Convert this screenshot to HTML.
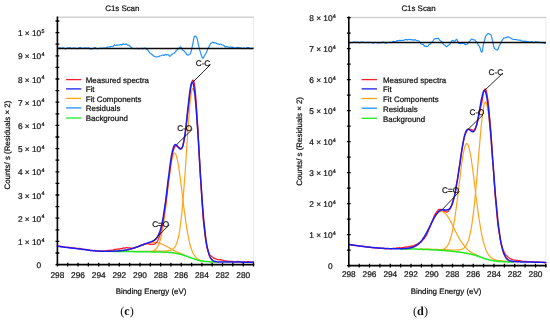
<!DOCTYPE html>
<html lang="en"><head><meta charset="utf-8"><title>C1s Scan</title>
<style>html,body{margin:0;padding:0;background:#fff}svg{display:block}text{text-rendering:geometricPrecision}</style>
</head><body>
<svg width="550" height="321" viewBox="0 0 550 321" font-family='"Liberation Sans", Arial, Helvetica, sans-serif'>
<rect width="550" height="321" fill="#fff"/>
<path d="M253.5,17.3 V264.6" fill="none" stroke="#ececec" stroke-width="1"/>
<path d="M57.4,17.3 H254.0" fill="none" stroke="#d2d2d2" stroke-width="1.5"/>
<g fill="none" stroke-width="1.2" stroke-linejoin="round" stroke-linecap="round"><path d="M133.4,251.4 L133.8,251.4 L134.2,251.4 L134.6,251.4 L135.0,251.4 L135.4,251.4 L135.8,251.4 L136.2,251.4 L136.7,251.4 L137.1,251.4 L137.5,251.4 L137.9,251.4 L138.3,251.4 L138.7,251.4 L139.1,251.4 L139.5,251.4 L140.0,251.4 L140.4,251.4 L140.8,251.4 L141.2,251.4 L141.6,251.4 L142.0,251.4 L142.4,251.4 L142.8,251.4 L143.3,251.4 L143.7,251.4 L144.1,251.4 L144.5,251.4 L144.9,251.3 L145.3,251.3 L145.7,251.3 L146.2,251.3 L146.6,251.3 L147.0,251.3 L147.4,251.3 L147.8,251.3 L148.2,251.3 L148.6,251.3 L149.0,251.3 L149.5,251.3 L149.9,251.3 L150.3,251.3 L150.7,251.3 L151.1,251.3 L151.5,251.3 L151.9,251.3 L152.3,251.3 L152.8,251.3 L153.2,251.3 L153.6,251.3 L154.0,251.3 L154.4,251.3 L154.8,251.3 L155.2,251.3 L155.6,251.2 L156.1,251.2 L156.5,251.2 L156.9,251.2 L157.3,251.2 L157.7,251.2 L158.1,251.2 L158.5,251.2 L158.9,251.2 L159.4,251.2 L159.8,251.2 L160.2,251.2 L160.6,251.2 L161.0,251.1 L161.4,251.1 L161.8,251.1 L162.3,251.1 L162.7,251.1 L163.1,251.1 L163.5,251.1 L163.9,251.1 L164.3,251.0 L164.7,251.0 L165.1,251.0 L165.6,251.0 L166.0,250.9 L166.4,250.9 L166.8,250.9 L167.2,250.9 L167.6,250.8 L168.0,250.8 L168.4,250.7 L168.9,250.7 L169.3,250.6 L169.7,250.5 L170.1,250.4 L170.5,250.3 L170.9,250.2 L171.3,250.0 L171.7,249.8 L172.2,249.6 L172.6,249.4 L173.0,249.1 L173.4,248.8 L173.8,248.4 L174.2,247.9 L174.6,247.4 L175.0,246.8 L175.5,246.1 L175.9,245.3 L176.3,244.3 L176.7,243.3 L177.1,242.0 L177.5,240.6 L177.9,239.1 L178.4,237.3 L178.8,235.3 L179.2,233.1 L179.6,230.7 L180.0,228.0 L180.4,225.0 L180.8,221.8 L181.2,218.3 L181.7,214.5 L182.1,210.4 L182.5,206.0 L182.9,201.4 L183.3,196.5 L183.7,191.3 L184.1,185.9 L184.5,180.3 L185.0,174.4 L185.4,168.4 L185.8,162.3 L186.2,156.1 L186.6,149.9 L187.0,143.7 L187.4,137.5 L187.8,131.4 L188.3,125.5 L188.7,119.9 L189.1,114.5 L189.5,109.5 L189.9,104.9 L190.3,100.7 L190.7,97.1 L191.1,94.1 L191.6,91.6 L192.0,89.8 L192.4,88.7 L192.8,88.4 L193.2,88.7 L193.6,89.7 L194.0,91.4 L194.4,93.7 L194.9,96.7 L195.3,100.3 L195.7,104.5 L196.1,109.2 L196.5,114.3 L196.9,119.9 L197.3,125.8 L197.8,131.9 L198.2,138.3 L198.6,144.9 L199.0,151.6 L199.4,158.3 L199.8,165.0 L200.2,171.6 L200.6,178.1 L201.1,184.5 L201.5,190.7 L201.9,196.6 L202.3,202.3 L202.7,207.7 L203.1,212.8 L203.5,217.6 L203.9,222.1 L204.4,226.3 L204.8,230.2 L205.2,233.8 L205.6,237.0 L206.0,240.0 L206.4,242.7 L206.8,245.2 L207.2,247.3 L207.7,249.3 L208.1,251.0 L208.5,252.6 L208.9,253.9 L209.3,255.1 L209.7,256.2 L210.1,257.1 L210.5,257.9 L211.0,258.5 L211.4,259.1 L211.8,259.6 L212.2,260.0 L212.6,260.4 L213.0,260.7 L213.4,260.9 L213.9,261.1 L214.3,261.3 L214.7,261.4 L215.1,261.5 L215.5,261.6 L215.9,261.7" stroke="#ffa21c"/><path d="M150.7,251.6 L151.1,251.5 L151.5,251.4 L151.9,251.3 L152.3,251.2 L152.8,251.1 L153.2,251.0 L153.6,250.8 L154.0,250.6 L154.4,250.4 L154.8,250.1 L155.2,249.8 L155.6,249.4 L156.1,249.0 L156.5,248.5 L156.9,247.9 L157.3,247.3 L157.7,246.6 L158.1,245.8 L158.5,244.8 L158.9,243.8 L159.4,242.7 L159.8,241.5 L160.2,240.1 L160.6,238.6 L161.0,236.9 L161.4,235.1 L161.8,233.2 L162.3,231.1 L162.7,228.9 L163.1,226.4 L163.5,223.9 L163.9,221.2 L164.3,218.3 L164.7,215.4 L165.1,212.2 L165.6,209.0 L166.0,205.7 L166.4,202.3 L166.8,198.8 L167.2,195.3 L167.6,191.7 L168.0,188.2 L168.4,184.7 L168.9,181.2 L169.3,177.8 L169.7,174.5 L170.1,171.4 L170.5,168.4 L170.9,165.6 L171.3,163.1 L171.7,160.8 L172.2,158.7 L172.6,156.9 L173.0,155.5 L173.4,154.4 L173.8,153.6 L174.2,153.1 L174.6,153.0 L175.0,153.3 L175.5,153.8 L175.9,154.6 L176.3,155.7 L176.7,157.0 L177.1,158.7 L177.5,160.6 L177.9,162.7 L178.4,165.0 L178.8,167.5 L179.2,170.3 L179.6,173.1 L180.0,176.1 L180.4,179.3 L180.8,182.5 L181.2,185.8 L181.7,189.1 L182.1,192.5 L182.5,195.9 L182.9,199.3 L183.3,202.7 L183.7,206.0 L184.1,209.3 L184.5,212.5 L185.0,215.6 L185.4,218.6 L185.8,221.6 L186.2,224.4 L186.6,227.1 L187.0,229.6 L187.4,232.1 L187.8,234.4 L188.3,236.6 L188.7,238.6 L189.1,240.5 L189.5,242.3 L189.9,244.0 L190.3,245.5 L190.7,247.0 L191.1,248.3 L191.6,249.5 L192.0,250.6 L192.4,251.6 L192.8,252.5 L193.2,253.4 L193.6,254.2 L194.0,254.9 L194.4,255.5 L194.9,256.1 L195.3,256.7 L195.7,257.1 L196.1,257.6 L196.5,258.0 L196.9,258.4 L197.3,258.7 L197.8,259.0 L198.2,259.3 L198.6,259.5 L199.0,259.8 L199.4,260.0 L199.8,260.2 L200.2,260.3 L200.6,260.5" stroke="#ffa21c"/><path d="M116.0,251.2 L116.4,251.2 L116.8,251.2 L117.3,251.1 L117.7,251.1 L118.1,251.1 L118.5,251.1 L118.9,251.0 L119.3,251.0 L119.7,251.0 L120.1,250.9 L120.6,250.9 L121.0,250.8 L121.4,250.8 L121.8,250.8 L122.2,250.7 L122.6,250.7 L123.0,250.6 L123.4,250.6 L123.9,250.5 L124.3,250.5 L124.7,250.4 L125.1,250.3 L125.5,250.3 L125.9,250.2 L126.3,250.2 L126.8,250.1 L127.2,250.0 L127.6,249.9 L128.0,249.8 L128.4,249.8 L128.8,249.7 L129.2,249.6 L129.6,249.5 L130.1,249.4 L130.5,249.3 L130.9,249.2 L131.3,249.1 L131.7,249.0 L132.1,248.8 L132.5,248.7 L132.9,248.6 L133.4,248.5 L133.8,248.4 L134.2,248.2 L134.6,248.1 L135.0,248.0 L135.4,247.8 L135.8,247.7 L136.2,247.5 L136.7,247.4 L137.1,247.2 L137.5,247.1 L137.9,246.9 L138.3,246.8 L138.7,246.6 L139.1,246.5 L139.5,246.3 L140.0,246.2 L140.4,246.0 L140.8,245.9 L141.2,245.7 L141.6,245.6 L142.0,245.4 L142.4,245.3 L142.8,245.1 L143.3,244.9 L143.7,244.8 L144.1,244.7 L144.5,244.5 L144.9,244.4 L145.3,244.2 L145.7,244.1 L146.2,244.0 L146.6,243.8 L147.0,243.7 L147.4,243.6 L147.8,243.5 L148.2,243.4 L148.6,243.2 L149.0,243.1 L149.5,243.1 L149.9,243.0 L150.3,242.9 L150.7,242.8 L151.1,242.7 L151.5,242.7 L151.9,242.6 L152.3,242.6 L152.8,242.5 L153.2,242.5 L153.6,242.5 L154.0,242.4 L154.4,242.4 L154.8,242.4 L155.2,242.4 L155.6,242.4 L156.1,242.5 L156.5,242.5 L156.9,242.5 L157.3,242.6 L157.7,242.7 L158.1,242.8 L158.5,242.8 L158.9,243.0 L159.4,243.1 L159.8,243.2 L160.2,243.3 L160.6,243.5 L161.0,243.6 L161.4,243.8 L161.8,244.0 L162.3,244.2 L162.7,244.4 L163.1,244.6 L163.5,244.8 L163.9,245.0 L164.3,245.2 L164.7,245.4 L165.1,245.6 L165.6,245.8 L166.0,246.0 L166.4,246.3 L166.8,246.5 L167.2,246.7 L167.6,247.0 L168.0,247.2 L168.4,247.4 L168.9,247.6 L169.3,247.9 L169.7,248.1 L170.1,248.3 L170.5,248.5 L170.9,248.8 L171.3,249.0 L171.7,249.2 L172.2,249.4 L172.6,249.6 L173.0,249.8 L173.4,250.1 L173.8,250.3 L174.2,250.5 L174.6,250.7 L175.0,250.9 L175.5,251.1 L175.9,251.4 L176.3,251.6 L176.7,251.8 L177.1,252.0 L177.5,252.2 L177.9,252.4 L178.4,252.5 L178.8,252.7 L179.2,252.9 L179.6,253.1 L180.0,253.3 L180.4,253.4 L180.8,253.6 L181.2,253.8 L181.7,253.9 L182.1,254.1 L182.5,254.3 L182.9,254.4 L183.3,254.6 L183.7,254.8 L184.1,255.0 L184.5,255.1 L185.0,255.3 L185.4,255.5" stroke="#ffa21c"/><path d="M113.1,251.5 L113.5,251.5 L114.0,251.5 L114.4,251.5 L114.8,251.5 L115.2,251.5 L115.6,251.5 L116.0,251.5 L116.4,251.5 L116.8,251.5 L117.3,251.5 L117.7,251.5 L118.1,251.5 L118.5,251.5 L118.9,251.5 L119.3,251.5 L119.7,251.5 L120.1,251.5 L120.6,251.5 L121.0,251.5 L121.4,251.5 L121.8,251.5 L122.2,251.5 L122.6,251.5 L123.0,251.5 L123.4,251.5 L123.9,251.5 L124.3,251.5 L124.7,251.5 L125.1,251.5 L125.5,251.6 L125.9,251.6 L126.3,251.6 L126.8,251.6 L127.2,251.6 L127.6,251.6 L128.0,251.6 L128.4,251.6 L128.8,251.6 L129.2,251.6 L129.6,251.6 L130.1,251.6 L130.5,251.6 L130.9,251.6 L131.3,251.6 L131.7,251.6 L132.1,251.6 L132.5,251.6 L132.9,251.6 L133.4,251.6 L133.8,251.7 L134.2,251.7 L134.6,251.7 L135.0,251.7 L135.4,251.7 L135.8,251.7 L136.2,251.7 L136.7,251.7 L137.1,251.7 L137.5,251.7 L137.9,251.7 L138.3,251.7 L138.7,251.7 L139.1,251.7 L139.5,251.7 L140.0,251.7 L140.4,251.7 L140.8,251.7 L141.2,251.7 L141.6,251.7 L142.0,251.7 L142.4,251.8 L142.8,251.8 L143.3,251.8 L143.7,251.8 L144.1,251.8 L144.5,251.8 L144.9,251.8 L145.3,251.8 L145.7,251.8 L146.2,251.8 L146.6,251.8 L147.0,251.8 L147.4,251.8 L147.8,251.8 L148.2,251.8 L148.6,251.8 L149.0,251.8 L149.5,251.8 L149.9,251.8 L150.3,251.8 L150.7,251.8 L151.1,251.9 L151.5,251.9 L151.9,251.9 L152.3,251.9 L152.8,251.9 L153.2,251.9 L153.6,251.9 L154.0,251.9 L154.4,251.9 L154.8,251.9 L155.2,251.9 L155.6,251.9 L156.1,252.0 L156.5,252.0 L156.9,252.0 L157.3,252.0 L157.7,252.0 L158.1,252.0 L158.5,252.0 L158.9,252.0 L159.4,252.0 L159.8,252.0 L160.2,252.1 L160.6,252.1 L161.0,252.1 L161.4,252.1 L161.8,252.1 L162.3,252.1 L162.7,252.1 L163.1,252.1 L163.5,252.2 L163.9,252.2 L164.3,252.2 L164.7,252.2 L165.1,252.2 L165.6,252.2 L166.0,252.3 L166.4,252.3 L166.8,252.3 L167.2,252.3 L167.6,252.3 L168.0,252.4 L168.4,252.4 L168.9,252.4 L169.3,252.4 L169.7,252.5 L170.1,252.5 L170.5,252.5 L170.9,252.5 L171.3,252.6 L171.7,252.6 L172.2,252.7 L172.6,252.7 L173.0,252.8 L173.4,252.8 L173.8,252.9 L174.2,252.9 L174.6,253.0 L175.0,253.1 L175.5,253.2 L175.9,253.3 L176.3,253.3 L176.7,253.4 L177.1,253.5 L177.5,253.6 L177.9,253.7 L178.4,253.8 L178.8,253.9 L179.2,254.0 L179.6,254.1 L180.0,254.2 L180.4,254.3 L180.8,254.4 L181.2,254.5 L181.7,254.6 L182.1,254.7 L182.5,254.8 L182.9,255.0 L183.3,255.1 L183.7,255.2 L184.1,255.4 L184.5,255.5 L185.0,255.6 L185.4,255.8 L185.8,255.9 L186.2,256.1 L186.6,256.2 L187.0,256.4 L187.4,256.5 L187.8,256.7 L188.3,256.8 L188.7,257.0 L189.1,257.1 L189.5,257.3 L189.9,257.4 L190.3,257.6 L190.7,257.7 L191.1,257.9 L191.6,258.0 L192.0,258.1 L192.4,258.3 L192.8,258.4 L193.2,258.5 L193.6,258.7 L194.0,258.8 L194.4,258.9 L194.9,259.1 L195.3,259.2 L195.7,259.4 L196.1,259.5 L196.5,259.6 L196.9,259.8 L197.3,259.9 L197.8,260.0 L198.2,260.1 L198.6,260.3 L199.0,260.4 L199.4,260.5 L199.8,260.6 L200.2,260.7 L200.6,260.8 L201.1,260.9 L201.5,260.9 L201.9,261.0 L202.3,261.1 L202.7,261.1 L203.1,261.2 L203.5,261.2 L203.9,261.3 L204.4,261.3 L204.8,261.4 L205.2,261.4 L205.6,261.5 L206.0,261.5 L206.4,261.5 L206.8,261.6 L207.2,261.6 L207.7,261.6 L208.1,261.7 L208.5,261.7 L208.9,261.7 L209.3,261.8 L209.7,261.8 L210.1,261.8 L210.5,261.9 L211.0,261.9 L211.4,261.9 L211.8,261.9 L212.2,261.9 L212.6,261.9 L213.0,261.9 L213.4,262.0 L213.9,262.0 L214.3,262.0 L214.7,262.0 L215.1,262.0" stroke="#1fea1f" stroke-width="1.5"/><path d="M57.4,246.3 L57.8,246.3 L58.2,246.3 L58.6,246.2 L59.1,246.1 L59.5,246.1 L59.9,246.2 L60.3,246.3 L60.7,246.4 L61.1,246.5 L61.5,246.5 L61.9,246.6 L62.4,246.6 L62.8,246.7 L63.2,246.7 L63.6,246.7 L64.0,246.8 L64.4,247.0 L64.8,247.2 L65.2,247.4 L65.7,247.4 L66.1,247.4 L66.5,247.3 L66.9,247.3 L67.3,247.2 L67.7,247.2 L68.1,247.3 L68.5,247.3 L69.0,247.5 L69.4,247.5 L69.8,247.5 L70.2,247.5 L70.6,247.6 L71.0,247.8 L71.4,247.9 L71.8,248.0 L72.3,248.0 L72.7,247.9 L73.1,247.9 L73.5,247.9 L73.9,248.0 L74.3,248.2 L74.7,248.2 L75.2,248.2 L75.6,248.2 L76.0,248.3 L76.4,248.4 L76.8,248.6 L77.2,248.7 L77.6,248.7 L78.0,248.6 L78.5,248.5 L78.9,248.5 L79.3,248.5 L79.7,248.5 L80.1,248.5 L80.5,248.6 L80.9,248.7 L81.3,248.9 L81.8,249.1 L82.2,249.2 L82.6,249.2 L83.0,249.2 L83.4,249.2 L83.8,249.3 L84.2,249.4 L84.6,249.4 L85.1,249.4 L85.5,249.4 L85.9,249.5 L86.3,249.6 L86.7,249.7 L87.1,249.7 L87.5,249.8 L87.9,249.8 L88.4,249.8 L88.8,249.8 L89.2,250.0 L89.6,250.2 L90.0,250.4 L90.4,250.5 L90.8,250.6 L91.2,250.6 L91.7,250.7 L92.1,250.7 L92.5,250.7 L92.9,250.6 L93.3,250.6 L93.7,250.6 L94.1,250.5 L94.6,250.5 L95.0,250.5 L95.4,250.5 L95.8,250.6 L96.2,250.9 L96.6,251.0 L97.0,251.1 L97.4,251.1 L97.9,251.1 L98.3,251.2 L98.7,251.1 L99.1,251.0 L99.5,251.0 L99.9,251.0 L100.3,251.0 L100.7,250.9 L101.2,251.0 L101.6,251.1 L102.0,251.1 L102.4,251.1 L102.8,251.0 L103.2,251.0 L103.6,251.0 L104.0,251.0 L104.5,251.0 L104.9,251.1 L105.3,251.0 L105.7,251.0 L106.1,250.9 L106.5,250.8 L106.9,250.8 L107.3,250.6 L107.8,250.5 L108.2,250.5 L108.6,250.5 L109.0,250.4 L109.4,250.3 L109.8,250.3 L110.2,250.3 L110.7,250.3 L111.1,250.2 L111.5,250.1 L111.9,250.1 L112.3,250.2 L112.7,250.2 L113.1,250.0 L113.5,249.8 L114.0,249.5 L114.4,249.4 L114.8,249.3 L115.2,249.3 L115.6,249.3 L116.0,249.4 L116.4,249.3 L116.8,249.2 L117.3,249.2 L117.7,249.2 L118.1,249.1 L118.5,249.1 L118.9,249.0 L119.3,249.0 L119.7,248.9 L120.1,248.8 L120.6,248.6 L121.0,248.6 L121.4,248.7 L121.8,248.7 L122.2,248.6 L122.6,248.3 L123.0,248.1 L123.4,248.0 L123.9,248.0 L124.3,248.1 L124.7,248.1 L125.1,248.0 L125.5,247.9 L125.9,247.8 L126.3,247.7 L126.8,247.7 L127.2,247.7 L127.6,247.8 L128.0,247.9 L128.4,247.8 L128.8,247.8 L129.2,247.8 L129.6,247.8 L130.1,247.9 L130.5,248.0 L130.9,248.1 L131.3,248.2 L131.7,248.2 L132.1,248.3 L132.5,248.3 L132.9,248.3 L133.4,248.1 L133.8,248.0 L134.2,247.9 L134.6,247.8 L135.0,247.7 L135.4,247.5 L135.8,247.4 L136.2,247.2 L136.7,247.0 L137.1,246.8 L137.5,246.6 L137.9,246.6 L138.3,246.5 L138.7,246.4 L139.1,246.3 L139.5,246.1 L140.0,245.9 L140.4,245.6 L140.8,245.4 L141.2,245.2 L141.6,245.1 L142.0,245.1 L142.4,245.0 L142.8,244.8 L143.3,244.6 L143.7,244.3 L144.1,244.1 L144.5,243.9 L144.9,243.7 L145.3,243.6 L145.7,243.6 L146.2,243.6 L146.6,243.6 L147.0,243.6 L147.4,243.6 L147.8,243.6 L148.2,243.7 L148.6,243.9 L149.0,244.1 L149.5,244.2 L149.9,244.3 L150.3,244.4 L150.7,244.4 L151.1,244.3 L151.5,244.4 L151.9,244.4 L152.3,244.4 L152.8,244.4 L153.2,244.4 L153.6,244.4 L154.0,244.2 L154.4,244.1 L154.8,243.8 L155.2,243.6 L155.6,243.3 L156.1,242.8 L156.5,242.4 L156.9,241.9 L157.3,241.3 L157.7,240.6 L158.1,239.8 L158.5,238.8 L158.9,237.8 L159.4,236.7 L159.8,235.5 L160.2,234.2 L160.6,232.7 L161.0,231.1 L161.4,229.3 L161.8,227.5 L162.3,225.4 L162.7,223.3 L163.1,221.0 L163.5,218.7 L163.9,216.3 L164.3,213.5 L164.7,210.5 L165.1,207.4 L165.6,204.4 L166.0,201.2 L166.4,197.9 L166.8,194.6 L167.2,191.3 L167.6,187.9 L168.0,184.5 L168.4,181.2 L168.9,178.0 L169.3,174.9 L169.7,172.0 L170.1,168.9 L170.5,165.9 L170.9,162.9 L171.3,160.1 L171.7,157.5 L172.2,155.3 L172.6,153.3 L173.0,151.6 L173.4,150.1 L173.8,148.9 L174.2,147.9 L174.6,147.2 L175.0,146.6 L175.5,146.2 L175.9,146.0 L176.3,145.9 L176.7,146.0 L177.1,146.2 L177.5,146.5 L177.9,146.9 L178.4,147.3 L178.8,147.6 L179.2,147.9 L179.6,148.1 L180.0,148.2 L180.4,148.3 L180.8,148.3 L181.2,148.4 L181.7,148.2 L182.1,147.8 L182.5,147.1 L182.9,146.1 L183.3,144.5 L183.7,142.7 L184.1,140.6 L184.5,138.3 L185.0,135.8 L185.4,132.9 L185.8,129.8 L186.2,126.6 L186.6,123.4 L187.0,119.8 L187.4,116.1 L187.8,112.2 L188.3,108.3 L188.7,104.4 L189.1,100.7 L189.5,97.3 L189.9,94.1 L190.3,91.0 L190.7,88.3 L191.1,85.7 L191.6,83.5 L192.0,81.8 L192.4,80.8 L192.8,80.2 L193.2,80.1 L193.6,80.6 L194.0,81.9 L194.4,84.2 L194.9,87.4 L195.3,91.5 L195.7,96.1 L196.1,101.3 L196.5,106.9 L196.9,113.1 L197.3,119.9 L197.8,127.1 L198.2,134.7 L198.6,142.5 L199.0,150.2 L199.4,157.8 L199.8,165.3 L200.2,172.8 L200.6,180.0 L201.1,187.1 L201.5,193.8 L201.9,200.3 L202.3,206.5 L202.7,212.2 L203.1,217.4 L203.5,222.1 L203.9,226.2 L204.4,229.9 L204.8,233.5 L205.2,236.8 L205.6,239.8 L206.0,242.3 L206.4,244.6 L206.8,246.6 L207.2,248.2 L207.7,249.7 L208.1,250.9 L208.5,252.0 L208.9,253.1 L209.3,254.0 L209.7,254.6 L210.1,255.0 L210.5,255.4 L211.0,255.8 L211.4,256.3 L211.8,256.6 L212.2,256.9 L212.6,257.2 L213.0,257.5 L213.4,257.8 L213.9,258.2 L214.3,258.4 L214.7,258.5 L215.1,258.6 L215.5,258.7 L215.9,258.9 L216.3,259.1 L216.7,259.2 L217.2,259.4 L217.6,259.5 L218.0,259.7 L218.4,259.7 L218.8,259.8 L219.2,259.8 L219.6,259.8 L220.0,259.8 L220.5,259.7 L220.9,259.8 L221.3,259.9 L221.7,260.1 L222.1,260.2 L222.5,260.2 L222.9,260.3 L223.3,260.4 L223.8,260.5 L224.2,260.6 L224.6,260.8 L225.0,261.1 L225.4,261.2 L225.8,261.1 L226.2,261.1 L226.6,261.1 L227.1,261.2 L227.5,261.2 L227.9,261.2 L228.3,261.3 L228.7,261.4 L229.1,261.4 L229.5,261.4 L230.0,261.4 L230.4,261.3 L230.8,261.4 L231.2,261.4 L231.6,261.4 L232.0,261.4 L232.4,261.4 L232.8,261.5 L233.3,261.6 L233.7,261.6 L234.1,261.7 L234.5,261.8 L234.9,261.8 L235.3,261.8 L235.7,261.7 L236.1,261.7 L236.6,261.7 L237.0,261.6 L237.4,261.5 L237.8,261.5 L238.2,261.5 L238.6,261.6 L239.0,261.7 L239.4,261.7 L239.9,261.8 L240.3,261.8 L240.7,261.8 L241.1,261.8 L241.5,261.9 L241.9,262.1 L242.3,262.1 L242.7,262.1 L243.2,262.0 L243.6,261.9 L244.0,261.8 L244.4,261.9 L244.8,262.0 L245.2,262.2 L245.6,262.1 L246.0,262.1 L246.5,261.9 L246.9,261.8 L247.3,261.7 L247.7,261.7 L248.1,261.7 L248.5,261.7 L248.9,261.7 L249.4,261.8 L249.8,261.9 L250.2,262.0 L250.6,262.1 L251.0,262.2 L251.4,262.3 L251.8,262.2 L252.2,262.1 L252.7,262.0 L253.1,262.0 L253.5,262.0" stroke="#ff1f2a" stroke-width="1.3"/><path d="M57.4,246.2 L57.8,246.3 L58.2,246.3 L58.6,246.4 L59.1,246.5 L59.5,246.5 L59.9,246.6 L60.3,246.6 L60.7,246.7 L61.1,246.7 L61.5,246.8 L61.9,246.9 L62.4,246.9 L62.8,247.0 L63.2,247.0 L63.6,247.1 L64.0,247.1 L64.4,247.2 L64.8,247.2 L65.2,247.3 L65.7,247.3 L66.1,247.4 L66.5,247.4 L66.9,247.5 L67.3,247.5 L67.7,247.6 L68.1,247.6 L68.5,247.7 L69.0,247.7 L69.4,247.8 L69.8,247.8 L70.2,247.9 L70.6,247.9 L71.0,248.0 L71.4,248.0 L71.8,248.1 L72.3,248.1 L72.7,248.2 L73.1,248.2 L73.5,248.2 L73.9,248.3 L74.3,248.3 L74.7,248.4 L75.2,248.4 L75.6,248.5 L76.0,248.5 L76.4,248.6 L76.8,248.6 L77.2,248.6 L77.6,248.7 L78.0,248.7 L78.5,248.8 L78.9,248.9 L79.3,248.9 L79.7,249.0 L80.1,249.0 L80.5,249.1 L80.9,249.1 L81.3,249.2 L81.8,249.2 L82.2,249.3 L82.6,249.4 L83.0,249.4 L83.4,249.5 L83.8,249.5 L84.2,249.6 L84.6,249.6 L85.1,249.7 L85.5,249.8 L85.9,249.8 L86.3,249.9 L86.7,249.9 L87.1,250.0 L87.5,250.0 L87.9,250.1 L88.4,250.1 L88.8,250.2 L89.2,250.2 L89.6,250.3 L90.0,250.3 L90.4,250.4 L90.8,250.4 L91.2,250.5 L91.7,250.5 L92.1,250.6 L92.5,250.6 L92.9,250.7 L93.3,250.7 L93.7,250.8 L94.1,250.8 L94.6,250.8 L95.0,250.9 L95.4,250.9 L95.8,251.0 L96.2,251.0 L96.6,251.0 L97.0,251.1 L97.4,251.1 L97.9,251.1 L98.3,251.1 L98.7,251.1 L99.1,251.2 L99.5,251.2 L99.9,251.2 L100.3,251.2 L100.7,251.2 L101.2,251.2 L101.6,251.2 L102.0,251.2 L102.4,251.2 L102.8,251.3 L103.2,251.3 L103.6,251.3 L104.0,251.3 L104.5,251.3 L104.9,251.3 L105.3,251.3 L105.7,251.3 L106.1,251.3 L106.5,251.3 L106.9,251.3 L107.3,251.3 L107.8,251.3 L108.2,251.3 L108.6,251.3 L109.0,251.3 L109.4,251.3 L109.8,251.3 L110.2,251.3 L110.7,251.2 L111.1,251.2 L111.5,251.2 L111.9,251.2 L112.3,251.2 L112.7,251.2 L113.1,251.2 L113.5,251.2 L114.0,251.1 L114.4,251.1 L114.8,251.1 L115.2,251.1 L115.6,251.1 L116.0,251.0 L116.4,251.0 L116.8,251.0 L117.3,251.0 L117.7,250.9 L118.1,250.9 L118.5,250.9 L118.9,250.8 L119.3,250.8 L119.7,250.8 L120.1,250.7 L120.6,250.7 L121.0,250.7 L121.4,250.6 L121.8,250.6 L122.2,250.5 L122.6,250.5 L123.0,250.4 L123.4,250.4 L123.9,250.3 L124.3,250.3 L124.7,250.2 L125.1,250.1 L125.5,250.1 L125.9,250.0 L126.3,249.9 L126.8,249.9 L127.2,249.8 L127.6,249.7 L128.0,249.6 L128.4,249.5 L128.8,249.4 L129.2,249.3 L129.6,249.2 L130.1,249.1 L130.5,249.0 L130.9,248.9 L131.3,248.8 L131.7,248.7 L132.1,248.6 L132.5,248.5 L132.9,248.3 L133.4,248.2 L133.8,248.1 L134.2,247.9 L134.6,247.8 L135.0,247.7 L135.4,247.5 L135.8,247.4 L136.2,247.2 L136.7,247.1 L137.1,246.9 L137.5,246.8 L137.9,246.6 L138.3,246.5 L138.7,246.3 L139.1,246.1 L139.5,246.0 L140.0,245.8 L140.4,245.7 L140.8,245.5 L141.2,245.3 L141.6,245.2 L142.0,245.0 L142.4,244.9 L142.8,244.7 L143.3,244.5 L143.7,244.4 L144.1,244.2 L144.5,244.1 L144.9,243.9 L145.3,243.8 L145.7,243.6 L146.2,243.5 L146.6,243.3 L147.0,243.2 L147.4,243.1 L147.8,242.9 L148.2,242.8 L148.6,242.6 L149.0,242.5 L149.5,242.4 L149.9,242.2 L150.3,242.1 L150.7,242.0 L151.1,241.8 L151.5,241.7 L151.9,241.5 L152.3,241.3 L152.8,241.2 L153.2,241.0 L153.6,240.7 L154.0,240.5 L154.4,240.2 L154.8,239.9 L155.2,239.6 L155.6,239.2 L156.1,238.8 L156.5,238.3 L156.9,237.7 L157.3,237.1 L157.7,236.5 L158.1,235.7 L158.5,234.9 L158.9,233.9 L159.4,232.9 L159.8,231.7 L160.2,230.5 L160.6,229.1 L161.0,227.6 L161.4,225.9 L161.8,224.1 L162.3,222.1 L162.7,220.0 L163.1,217.8 L163.5,215.4 L163.9,212.8 L164.3,210.2 L164.7,207.3 L165.1,204.4 L165.6,201.3 L166.0,198.2 L166.4,194.9 L166.8,191.6 L167.2,188.2 L167.6,184.8 L168.0,181.4 L168.4,178.0 L168.9,174.7 L169.3,171.4 L169.7,168.2 L170.1,165.2 L170.5,162.2 L170.9,159.5 L171.3,156.9 L171.7,154.6 L172.2,152.4 L172.6,150.5 L173.0,148.9 L173.4,147.6 L173.8,146.5 L174.2,145.7 L174.6,145.1 L175.0,144.8 L175.5,144.6 L175.9,144.7 L176.3,144.9 L176.7,145.2 L177.1,145.6 L177.5,146.1 L177.9,146.7 L178.4,147.3 L178.8,147.8 L179.2,148.3 L179.6,148.7 L180.0,149.0 L180.4,149.1 L180.8,149.1 L181.2,148.8 L181.7,148.3 L182.1,147.6 L182.5,146.5 L182.9,145.2 L183.3,143.6 L183.7,141.7 L184.1,139.4 L184.5,136.9 L185.0,134.1 L185.4,131.0 L185.8,127.7 L186.2,124.2 L186.6,120.5 L187.0,116.7 L187.4,112.8 L187.8,109.0 L188.3,105.1 L188.7,101.4 L189.1,97.8 L189.5,94.4 L189.9,91.3 L190.3,88.6 L190.7,86.3 L191.1,84.4 L191.6,83.1 L192.0,82.3 L192.4,82.0 L192.8,82.4 L193.2,83.5 L193.6,85.1 L194.0,87.4 L194.4,90.3 L194.9,93.7 L195.3,97.7 L195.7,102.3 L196.1,107.3 L196.5,112.7 L196.9,118.5 L197.3,124.6 L197.8,130.9 L198.2,137.5 L198.6,144.2 L199.0,151.0 L199.4,157.8 L199.8,164.6 L200.2,171.3 L200.6,177.8 L201.1,184.3 L201.5,190.5 L201.9,196.4 L202.3,202.2 L202.7,207.6 L203.1,212.7 L203.5,217.6 L203.9,222.1 L204.4,226.3 L204.8,230.2 L205.2,233.7 L205.6,237.0 L206.0,240.0 L206.4,242.7 L206.8,245.1 L207.2,247.3 L207.7,249.3 L208.1,251.0 L208.5,252.6 L208.9,253.9 L209.3,255.1 L209.7,256.2 L210.1,257.1 L210.5,257.9 L211.0,258.5 L211.4,259.1 L211.8,259.6 L212.2,260.0 L212.6,260.4 L213.0,260.7 L213.4,260.9 L213.9,261.1 L214.3,261.3 L214.7,261.4 L215.1,261.5 L215.5,261.6 L215.9,261.7 L216.3,261.8 L216.7,261.8 L217.2,261.9 L217.6,261.9 L218.0,261.9 L218.4,261.9 L218.8,262.0 L219.2,262.0 L219.6,262.0 L220.0,262.0 L220.5,262.0 L220.9,262.0 L221.3,262.0 L221.7,262.0 L222.1,262.0 L222.5,262.0 L222.9,262.0 L223.3,262.1 L223.8,262.1 L224.2,262.1 L224.6,262.1 L225.0,262.1 L225.4,262.1 L225.8,262.1 L226.2,262.1 L226.6,262.1 L227.1,262.1 L227.5,262.1 L227.9,262.1 L228.3,262.1 L228.7,262.1 L229.1,262.1 L229.5,262.1 L230.0,262.1 L230.4,262.1 L230.8,262.1 L231.2,262.1 L231.6,262.1 L232.0,262.1 L232.4,262.1 L232.8,262.1 L233.3,262.1 L233.7,262.1 L234.1,262.1 L234.5,262.1 L234.9,262.1 L235.3,262.1 L235.7,262.1 L236.1,262.1 L236.6,262.1 L237.0,262.1 L237.4,262.1 L237.8,262.1 L238.2,262.1 L238.6,262.1 L239.0,262.1 L239.4,262.1 L239.9,262.1 L240.3,262.1 L240.7,262.1 L241.1,262.1 L241.5,262.2 L241.9,262.2 L242.3,262.2 L242.7,262.2 L243.2,262.2 L243.6,262.2 L244.0,262.2 L244.4,262.2 L244.8,262.2 L245.2,262.2 L245.6,262.2 L246.0,262.2 L246.5,262.2 L246.9,262.2 L247.3,262.2 L247.7,262.2 L248.1,262.2 L248.5,262.2 L248.9,262.2 L249.4,262.2 L249.8,262.2 L250.2,262.2 L250.6,262.2 L251.0,262.2 L251.4,262.3 L251.8,262.3 L252.2,262.3 L252.7,262.3 L253.1,262.3 L253.5,262.3" stroke="#1c1cee" stroke-width="1.5"/><path d="M57.4,48.8 L58.0,48.6 L58.7,48.1 L59.3,47.8 L60.0,47.9 L60.6,48.1 L61.3,48.1 L61.9,48.1 L62.6,48.1 L63.2,47.9 L63.9,47.9 L64.5,48.4 L65.2,48.8 L65.8,48.8 L66.5,48.4 L67.1,48.0 L67.8,47.8 L68.4,47.9 L69.1,48.1 L69.7,47.9 L70.4,47.7 L71.0,48.2 L71.7,48.6 L72.3,48.3 L73.0,47.9 L73.6,48.0 L74.3,48.3 L74.9,48.2 L75.6,48.0 L76.2,48.2 L76.9,48.7 L77.5,48.7 L78.2,48.2 L78.8,47.9 L79.5,47.8 L80.1,47.5 L80.8,47.7 L81.4,48.1 L82.1,48.5 L82.7,48.3 L83.4,48.1 L84.0,48.3 L84.7,48.2 L85.3,47.8 L86.0,48.0 L86.6,48.1 L87.3,48.1 L87.9,48.0 L88.6,47.8 L89.2,48.2 L89.9,48.7 L90.5,48.9 L91.2,48.9 L91.8,49.0 L92.5,48.8 L93.1,48.4 L93.8,48.2 L94.4,47.9 L95.1,47.7 L95.7,47.9 L96.4,48.5 L97.0,48.8 L97.7,48.7 L98.3,48.7 L99.0,48.4 L99.6,48.3 L100.3,48.2 L100.9,48.0 L101.6,48.4 L102.2,48.5 L102.9,48.1 L103.5,48.0 L104.2,48.1 L104.8,48.2 L105.5,48.0 L106.1,47.8 L106.8,47.6 L107.4,47.2 L108.1,47.0 L108.7,47.0 L109.4,46.8 L110.0,46.8 L110.7,46.7 L111.3,46.4 L112.0,46.5 L112.6,46.6 L113.3,46.2 L113.9,45.4 L114.6,44.9 L115.2,45.1 L115.9,45.3 L116.5,45.2 L117.2,45.1 L117.8,45.1 L118.5,45.0 L119.1,44.9 L119.8,44.9 L120.4,44.5 L121.1,44.6 L121.7,45.0 L122.4,44.6 L123.0,43.9 L123.7,43.9 L124.3,44.3 L125.0,44.4 L125.6,44.2 L126.3,44.1 L126.9,44.4 L127.6,44.9 L128.2,45.2 L128.9,45.3 L129.5,45.7 L130.2,46.3 L130.8,47.0 L131.5,47.5 L132.1,48.1 L132.8,48.6 L133.4,48.5 L134.1,48.5 L134.7,48.7 L135.4,48.7 L136.0,48.6 L136.7,48.4 L137.3,48.3 L138.0,48.7 L138.6,48.9 L139.3,48.8 L139.9,48.7 L140.6,48.5 L141.2,48.3 L141.9,48.6 L142.5,48.9 L143.2,48.7 L143.8,48.3 L144.5,48.2 L145.1,48.2 L145.8,48.5 L146.4,49.2 L147.1,49.5 L147.7,49.8 L148.4,50.7 L149.0,51.8 L149.7,52.7 L150.3,53.2 L151.0,53.6 L151.6,54.2 L152.3,54.8 L152.9,55.3 L153.6,55.9 L154.2,56.2 L154.9,56.5 L155.5,56.8 L156.2,56.8 L156.8,56.9 L157.5,57.0 L158.1,56.7 L158.8,56.4 L159.4,56.1 L160.1,56.0 L160.7,55.8 L161.4,55.5 L162.0,55.3 L162.7,55.0 L163.3,55.1 L164.0,55.5 L164.6,55.0 L165.3,54.6 L165.9,54.8 L166.6,54.6 L167.2,54.7 L167.9,54.8 L168.5,54.8 L169.2,55.6 L169.8,56.3 L170.5,56.0 L171.1,55.2 L171.8,54.5 L172.4,54.1 L173.1,53.8 L173.7,53.5 L174.4,53.1 L175.0,52.3 L175.7,51.4 L176.3,50.6 L177.0,49.8 L177.6,49.2 L178.3,48.7 L178.9,48.1 L179.6,47.4 L180.2,46.9 L180.9,47.1 L181.5,48.1 L182.2,49.4 L182.8,50.2 L183.5,50.6 L184.1,51.0 L184.8,51.8 L185.4,52.4 L186.1,53.4 L186.7,54.6 L187.4,55.1 L188.0,55.0 L188.7,54.8 L189.3,54.4 L190.0,54.0 L190.6,52.9 L191.3,50.7 L191.9,47.9 L192.6,45.2 L193.2,41.6 L193.9,38.1 L194.5,36.1 L195.2,36.0 L195.8,36.5 L196.5,37.1 L197.1,38.4 L197.8,41.3 L198.4,44.6 L199.1,47.6 L199.7,49.9 L200.4,52.2 L201.0,54.2 L201.7,55.9 L202.3,57.5 L203.0,58.2 L203.6,57.5 L204.3,56.0 L204.9,55.0 L205.6,54.1 L206.2,52.7 L206.9,51.3 L207.5,49.6 L208.2,48.0 L208.8,47.0 L209.5,45.9 L210.1,44.4 L210.8,43.3 L211.4,42.9 L212.1,42.5 L212.7,42.2 L213.4,42.4 L214.0,43.0 L214.7,42.9 L215.3,42.7 L216.0,43.0 L216.6,43.4 L217.3,43.7 L217.9,44.1 L218.6,44.2 L219.2,44.3 L219.9,44.3 L220.5,44.0 L221.2,44.3 L221.8,44.8 L222.5,45.0 L223.1,45.2 L223.8,45.4 L224.4,46.0 L225.1,46.8 L225.7,46.8 L226.4,46.6 L227.0,46.8 L227.7,46.9 L228.3,47.0 L229.0,47.3 L229.6,47.3 L230.3,47.0 L230.9,47.2 L231.6,47.3 L232.2,47.2 L232.9,47.4 L233.5,47.6 L234.2,47.9 L234.8,48.0 L235.5,47.8 L236.1,47.8 L236.8,47.7 L237.4,47.3 L238.1,47.4 L238.7,47.6 L239.4,47.7 L240.0,47.9 L240.7,47.8 L241.3,47.9 L242.0,48.5 L242.6,48.6 L243.3,48.1 L243.9,47.9 L244.6,48.2 L245.2,48.6 L245.9,48.5 L246.5,47.9 L247.2,47.7 L247.8,47.6 L248.5,47.5 L249.1,47.7 L249.8,48.0 L250.4,48.2 L251.1,48.7 L251.7,48.6 L252.4,48.1 L253.0,48.1" stroke="#2090ff" stroke-width="1.2"/></g>
<path d="M57.4,48.6 H253.5" stroke="#0a0a0a" stroke-width="1.5"/>
<path d="M57.4,17.3 V264.6 H253.5" fill="none" stroke="#000" stroke-width="1.6" stroke-linecap="square"/>
<path d="M55.5,264.6 h3.8M55.5,253.0 h3.8M55.5,241.4 h3.8M55.5,229.8 h3.8M55.5,218.2 h3.8M55.5,206.6 h3.8M55.5,195.0 h3.8M55.5,183.4 h3.8M55.5,171.8 h3.8M55.5,160.2 h3.8M55.5,148.6 h3.8M55.5,137.0 h3.8M55.5,125.4 h3.8M55.5,113.8 h3.8M55.5,102.2 h3.8M55.5,90.6 h3.8M55.5,79.0 h3.8M55.5,67.4 h3.8M55.5,55.8 h3.8M55.5,44.2 h3.8M55.5,32.6 h3.8M55.5,21.0 h3.8M57.4,262.7 v3.8M67.7,262.7 v3.8M78.0,262.7 v3.8M88.4,262.7 v3.8M98.7,262.7 v3.8M109.0,262.7 v3.8M119.3,262.7 v3.8M129.6,262.7 v3.8M140.0,262.7 v3.8M150.3,262.7 v3.8M160.6,262.7 v3.8M170.9,262.7 v3.8M181.2,262.7 v3.8M191.6,262.7 v3.8M201.9,262.7 v3.8M212.2,262.7 v3.8M222.5,262.7 v3.8M232.8,262.7 v3.8M243.2,262.7 v3.8M253.5,262.7 v3.8" fill="none" stroke="#000" stroke-width="1.3"/>
<g font-size="8.3" fill="#111" stroke="#111" stroke-width="0.22"><text x="57.4" y="278.3" text-anchor="middle">298</text><text x="78.0" y="278.3" text-anchor="middle">296</text><text x="98.7" y="278.3" text-anchor="middle">294</text><text x="119.3" y="278.3" text-anchor="middle">292</text><text x="140.0" y="278.3" text-anchor="middle">290</text><text x="160.6" y="278.3" text-anchor="middle">288</text><text x="181.2" y="278.3" text-anchor="middle">286</text><text x="201.9" y="278.3" text-anchor="middle">284</text><text x="222.5" y="278.3" text-anchor="middle">282</text><text x="243.2" y="278.3" text-anchor="middle">280</text><text x="41.2" y="268.1" text-anchor="end">0</text><text x="41.2" y="244.9" text-anchor="end">1 × 10</text><text x="41.4" y="241.5" font-size="5.4">4</text><text x="41.2" y="221.7" text-anchor="end">2 × 10</text><text x="41.4" y="218.3" font-size="5.4">4</text><text x="41.2" y="198.5" text-anchor="end">3 × 10</text><text x="41.4" y="195.1" font-size="5.4">4</text><text x="41.2" y="175.3" text-anchor="end">4 × 10</text><text x="41.4" y="171.9" font-size="5.4">4</text><text x="41.2" y="152.1" text-anchor="end">5 × 10</text><text x="41.4" y="148.7" font-size="5.4">4</text><text x="41.2" y="128.9" text-anchor="end">6 × 10</text><text x="41.4" y="125.5" font-size="5.4">4</text><text x="41.2" y="105.7" text-anchor="end">7 × 10</text><text x="41.4" y="102.3" font-size="5.4">4</text><text x="41.2" y="82.5" text-anchor="end">8 × 10</text><text x="41.4" y="79.1" font-size="5.4">4</text><text x="41.2" y="59.3" text-anchor="end">9 × 10</text><text x="41.4" y="55.9" font-size="5.4">4</text><text x="41.2" y="36.1" text-anchor="end">1 × 10</text><text x="41.4" y="32.7" font-size="5.4">5</text></g>
<path d="M66.1,79.6 H81.3" stroke="#ff1f2a" stroke-width="1.3"/>
<path d="M66.1,88.9 H81.3" stroke="#1c1cee" stroke-width="1.3"/>
<path d="M66.1,98.4 H81.3" stroke="#ffa21c" stroke-width="1.3"/>
<path d="M66.1,107.9 H81.3" stroke="#2090ff" stroke-width="1.3"/>
<path d="M66.1,118.0 H81.3" stroke="#1fea1f" stroke-width="1.3"/>
<path d="M193,82 L210.5,64.5" stroke="#111" stroke-width="0.9"/>
<path d="M176.8,144.4 L192.4,129.2" stroke="#111" stroke-width="0.9"/>
<path d="M152.4,241.8 L169.3,224.8" stroke="#111" stroke-width="0.9"/>
<g font-size="7.9" fill="#111" stroke="#111" stroke-width="0.22"><text x="122.3" y="10.9" text-anchor="middle">C1s Scan</text><text x="151.0" y="294.2" text-anchor="middle">Binding Energy (eV)</text><text transform="translate(10.0,145.1) rotate(-90)" text-anchor="middle">Counts/ s (Residuals × 2)</text><text x="85.8" y="82.9">Measured spectra</text><text x="85.8" y="92.2">Fit</text><text x="85.8" y="101.7">Fit Components</text><text x="85.8" y="111.2">Residuals</text><text x="85.8" y="121.3">Background</text><text x="203" y="66.0" text-anchor="middle" font-size="8.2">C-C</text><text x="184.7" y="131.2" text-anchor="middle" font-size="8.2">C-O</text><text x="160.7" y="226.6" text-anchor="middle" font-size="8.2">C=O</text></g>
<path d="M545.8,17.4 V265.6" fill="none" stroke="#ececec" stroke-width="1"/>
<path d="M348.8,17.4 H546.3" fill="none" stroke="#d2d2d2" stroke-width="1.5"/>
<g fill="none" stroke-width="1.2" stroke-linejoin="round" stroke-linecap="round"><path d="M420.6,248.9 L421.0,248.9 L421.4,248.9 L421.8,249.0 L422.2,249.0 L422.6,249.0 L423.0,249.0 L423.5,249.0 L423.9,249.0 L424.3,249.0 L424.7,249.0 L425.1,249.0 L425.5,249.1 L426.0,249.1 L426.4,249.1 L426.8,249.1 L427.2,249.1 L427.6,249.1 L428.0,249.1 L428.4,249.1 L428.9,249.2 L429.3,249.2 L429.7,249.2 L430.1,249.2 L430.5,249.2 L430.9,249.2 L431.3,249.2 L431.8,249.3 L432.2,249.3 L432.6,249.3 L433.0,249.3 L433.4,249.3 L433.8,249.3 L434.2,249.3 L434.7,249.3 L435.1,249.4 L435.5,249.4 L435.9,249.4 L436.3,249.4 L436.7,249.4 L437.2,249.4 L437.6,249.4 L438.0,249.5 L438.4,249.5 L438.8,249.5 L439.2,249.5 L439.6,249.5 L440.1,249.5 L440.5,249.5 L440.9,249.6 L441.3,249.6 L441.7,249.6 L442.1,249.6 L442.5,249.6 L443.0,249.6 L443.4,249.6 L443.8,249.7 L444.2,249.7 L444.6,249.7 L445.0,249.7 L445.4,249.7 L445.9,249.7 L446.3,249.8 L446.7,249.8 L447.1,249.8 L447.5,249.8 L447.9,249.8 L448.4,249.8 L448.8,249.8 L449.2,249.9 L449.6,249.9 L450.0,249.9 L450.4,249.9 L450.8,249.9 L451.3,249.9 L451.7,249.9 L452.1,250.0 L452.5,250.0 L452.9,250.0 L453.3,250.0 L453.7,250.0 L454.2,250.0 L454.6,250.0 L455.0,250.0 L455.4,250.0 L455.8,250.0 L456.2,250.0 L456.6,250.0 L457.1,249.9 L457.5,249.9 L457.9,249.9 L458.3,249.9 L458.7,249.8 L459.1,249.8 L459.6,249.7 L460.0,249.7 L460.4,249.6 L460.8,249.5 L461.2,249.4 L461.6,249.2 L462.0,249.1 L462.5,248.9 L462.9,248.7 L463.3,248.5 L463.7,248.2 L464.1,247.8 L464.5,247.5 L464.9,247.0 L465.4,246.6 L465.8,246.0 L466.2,245.4 L466.6,244.6 L467.0,243.8 L467.4,242.9 L467.8,241.9 L468.3,240.7 L468.7,239.5 L469.1,238.1 L469.5,236.5 L469.9,234.8 L470.3,232.9 L470.8,230.8 L471.2,228.5 L471.6,226.1 L472.0,223.5 L472.4,220.6 L472.8,217.6 L473.2,214.3 L473.7,210.8 L474.1,207.2 L474.5,203.3 L474.9,199.2 L475.3,195.0 L475.7,190.5 L476.1,186.0 L476.6,181.2 L477.0,176.4 L477.4,171.5 L477.8,166.4 L478.2,161.4 L478.6,156.3 L479.0,151.2 L479.5,146.2 L479.9,141.2 L480.3,136.4 L480.7,131.8 L481.1,127.3 L481.5,123.1 L482.0,119.1 L482.4,115.5 L482.8,112.3 L483.2,109.4 L483.6,106.9 L484.0,105.0 L484.4,103.4 L484.9,102.4 L485.3,102.0 L485.7,102.0 L486.1,102.5 L486.5,103.5 L486.9,105.0 L487.3,106.9 L487.8,109.3 L488.2,112.1 L488.6,115.3 L489.0,118.9 L489.4,122.8 L489.8,127.0 L490.2,131.5 L490.7,136.2 L491.1,141.1 L491.5,146.2 L491.9,151.4 L492.3,156.7 L492.7,162.1 L493.2,167.4 L493.6,172.8 L494.0,178.1 L494.4,183.3 L494.8,188.5 L495.2,193.5 L495.6,198.3 L496.1,203.0 L496.5,207.5 L496.9,211.9 L497.3,216.0 L497.7,219.9 L498.1,223.6 L498.5,227.1 L499.0,230.3 L499.4,233.4 L499.8,236.2 L500.2,238.8 L500.6,241.2 L501.0,243.4 L501.4,245.5 L501.9,247.3 L502.3,249.0 L502.7,250.5 L503.1,251.9 L503.5,253.1 L503.9,254.2 L504.4,255.2 L504.8,256.1 L505.2,256.9 L505.6,257.6 L506.0,258.2 L506.4,258.7 L506.8,259.2 L507.3,259.6 L507.7,259.9 L508.1,260.2 L508.5,260.5 L508.9,260.7 L509.3,260.9 L509.7,261.1 L510.2,261.3 L510.6,261.4 L511.0,261.5 L511.4,261.6" stroke="#ffa21c"/><path d="M440.5,249.9 L440.9,249.9 L441.3,249.8 L441.7,249.7 L442.1,249.6 L442.5,249.5 L443.0,249.4 L443.4,249.3 L443.8,249.1 L444.2,248.9 L444.6,248.6 L445.0,248.3 L445.4,248.0 L445.9,247.7 L446.3,247.2 L446.7,246.7 L447.1,246.2 L447.5,245.6 L447.9,244.9 L448.4,244.1 L448.8,243.3 L449.2,242.3 L449.6,241.3 L450.0,240.2 L450.4,238.9 L450.8,237.5 L451.3,236.0 L451.7,234.4 L452.1,232.7 L452.5,230.8 L452.9,228.8 L453.3,226.6 L453.7,224.3 L454.2,221.9 L454.6,219.3 L455.0,216.6 L455.4,213.8 L455.8,210.9 L456.2,207.9 L456.6,204.7 L457.1,201.5 L457.5,198.2 L457.9,194.8 L458.3,191.4 L458.7,187.9 L459.1,184.4 L459.6,181.0 L460.0,177.5 L460.4,174.2 L460.8,170.8 L461.2,167.6 L461.6,164.5 L462.0,161.6 L462.5,158.8 L462.9,156.1 L463.3,153.7 L463.7,151.5 L464.1,149.6 L464.5,147.9 L464.9,146.4 L465.4,145.3 L465.8,144.4 L466.2,143.9 L466.6,143.6 L467.0,143.7 L467.4,144.0 L467.8,144.7 L468.3,145.6 L468.7,146.7 L469.1,148.2 L469.5,149.9 L469.9,151.8 L470.3,153.9 L470.8,156.2 L471.2,158.8 L471.6,161.5 L472.0,164.3 L472.4,167.3 L472.8,170.4 L473.2,173.5 L473.7,176.8 L474.1,180.1 L474.5,183.5 L474.9,186.8 L475.3,190.2 L475.7,193.6 L476.1,196.9 L476.6,200.2 L477.0,203.5 L477.4,206.7 L477.8,209.8 L478.2,212.9 L478.6,215.8 L479.0,218.7 L479.5,221.4 L479.9,224.0 L480.3,226.6 L480.7,229.0 L481.1,231.3 L481.5,233.5 L482.0,235.6 L482.4,237.5 L482.8,239.3 L483.2,241.1 L483.6,242.7 L484.0,244.2 L484.4,245.6 L484.9,246.9 L485.3,248.1 L485.7,249.2 L486.1,250.2 L486.5,251.2 L486.9,252.0 L487.3,252.8 L487.8,253.6 L488.2,254.2 L488.6,254.9 L489.0,255.4 L489.4,255.9 L489.8,256.4 L490.2,256.8 L490.7,257.2 L491.1,257.6 L491.5,257.9 L491.9,258.2 L492.3,258.4 L492.7,258.7 L493.2,258.9 L493.6,259.1 L494.0,259.3 L494.4,259.5 L494.8,259.6 L495.2,259.7 L495.6,259.9 L496.1,260.0 L496.5,260.1 L496.9,260.2 L497.3,260.3 L497.7,260.4 L498.1,260.5 L498.5,260.5 L499.0,260.6 L499.4,260.7 L499.8,260.7 L500.2,260.8 L500.6,260.8 L501.0,260.9 L501.4,260.9 L501.9,260.9 L502.3,261.0 L502.7,261.0 L503.1,261.1 L503.5,261.1 L503.9,261.1 L504.4,261.2 L504.8,261.2 L505.2,261.2 L505.6,261.2 L506.0,261.3 L506.4,261.3 L506.8,261.3 L507.3,261.3 L507.7,261.4 L508.1,261.4 L508.5,261.4 L508.9,261.4 L509.3,261.5 L509.7,261.5 L510.2,261.5 L510.6,261.5 L511.0,261.5 L511.4,261.6 L511.8,261.6 L512.2,261.6 L512.6,261.6 L513.1,261.6" stroke="#ffa21c"/><path d="M407.3,248.6 L407.7,248.6 L408.1,248.5 L408.5,248.5 L408.9,248.4 L409.4,248.3 L409.8,248.2 L410.2,248.2 L410.6,248.1 L411.0,248.0 L411.4,247.9 L411.8,247.8 L412.3,247.6 L412.7,247.5 L413.1,247.4 L413.5,247.2 L413.9,247.0 L414.3,246.9 L414.8,246.7 L415.2,246.5 L415.6,246.3 L416.0,246.0 L416.4,245.8 L416.8,245.5 L417.2,245.2 L417.7,244.9 L418.1,244.6 L418.5,244.3 L418.9,243.9 L419.3,243.5 L419.7,243.1 L420.1,242.7 L420.6,242.3 L421.0,241.8 L421.4,241.3 L421.8,240.8 L422.2,240.3 L422.6,239.7 L423.0,239.1 L423.5,238.5 L423.9,237.9 L424.3,237.2 L424.7,236.5 L425.1,235.8 L425.5,235.1 L426.0,234.4 L426.4,233.6 L426.8,232.9 L427.2,232.1 L427.6,231.3 L428.0,230.5 L428.4,229.7 L428.9,228.8 L429.3,228.0 L429.7,227.2 L430.1,226.3 L430.5,225.5 L430.9,224.6 L431.3,223.8 L431.8,223.0 L432.2,222.1 L432.6,221.3 L433.0,220.5 L433.4,219.8 L433.8,219.0 L434.2,218.3 L434.7,217.5 L435.1,216.9 L435.5,216.2 L435.9,215.6 L436.3,215.0 L436.7,214.4 L437.2,213.9 L437.6,213.4 L438.0,213.0 L438.4,212.6 L438.8,212.3 L439.2,212.0 L439.6,211.8 L440.1,211.6 L440.5,211.4 L440.9,211.3 L441.3,211.3 L441.7,211.3 L442.1,211.4 L442.5,211.5 L443.0,211.7 L443.4,211.9 L443.8,212.1 L444.2,212.4 L444.6,212.7 L445.0,213.1 L445.4,213.5 L445.9,214.0 L446.3,214.5 L446.7,215.0 L447.1,215.6 L447.5,216.2 L447.9,216.8 L448.4,217.4 L448.8,218.1 L449.2,218.8 L449.6,219.6 L450.0,220.3 L450.4,221.1 L450.8,221.9 L451.3,222.7 L451.7,223.5 L452.1,224.4 L452.5,225.2 L452.9,226.0 L453.3,226.9 L453.7,227.7 L454.2,228.6 L454.6,229.4 L455.0,230.3 L455.4,231.1 L455.8,232.0 L456.2,232.8 L456.6,233.6 L457.1,234.4 L457.5,235.2 L457.9,236.0 L458.3,236.8 L458.7,237.5 L459.1,238.3 L459.6,239.0 L460.0,239.7 L460.4,240.4 L460.8,241.0 L461.2,241.7 L461.6,242.3 L462.0,242.9 L462.5,243.5 L462.9,244.1 L463.3,244.7 L463.7,245.2 L464.1,245.7 L464.5,246.2 L464.9,246.7 L465.4,247.2 L465.8,247.7 L466.2,248.1 L466.6,248.5 L467.0,248.9 L467.4,249.3 L467.8,249.7 L468.3,250.1 L468.7,250.4 L469.1,250.7 L469.5,251.1 L469.9,251.4 L470.3,251.7 L470.8,251.9 L471.2,252.2 L471.6,252.5 L472.0,252.7 L472.4,253.0 L472.8,253.2 L473.2,253.4 L473.7,253.6 L474.1,253.9 L474.5,254.1 L474.9,254.3 L475.3,254.5 L475.7,254.7 L476.1,254.9 L476.6,255.1 L477.0,255.3 L477.4,255.5 L477.8,255.6 L478.2,255.8 L478.6,256.0" stroke="#ffa21c"/><path d="M400.7,249.0 L401.1,249.0 L401.5,249.0 L401.9,249.0 L402.3,249.0 L402.7,249.0 L403.1,249.0 L403.6,249.0 L404.0,249.0 L404.4,249.0 L404.8,249.0 L405.2,249.0 L405.6,249.0 L406.0,249.0 L406.5,249.0 L406.9,249.0 L407.3,249.0 L407.7,249.0 L408.1,249.0 L408.5,249.0 L408.9,249.0 L409.4,249.0 L409.8,249.0 L410.2,249.0 L410.6,249.0 L411.0,249.0 L411.4,249.0 L411.8,249.0 L412.3,249.0 L412.7,249.0 L413.1,249.0 L413.5,249.0 L413.9,249.1 L414.3,249.1 L414.8,249.1 L415.2,249.1 L415.6,249.1 L416.0,249.1 L416.4,249.1 L416.8,249.1 L417.2,249.2 L417.7,249.2 L418.1,249.2 L418.5,249.2 L418.9,249.2 L419.3,249.2 L419.7,249.3 L420.1,249.3 L420.6,249.3 L421.0,249.3 L421.4,249.3 L421.8,249.3 L422.2,249.4 L422.6,249.4 L423.0,249.4 L423.5,249.4 L423.9,249.4 L424.3,249.4 L424.7,249.5 L425.1,249.5 L425.5,249.5 L426.0,249.5 L426.4,249.5 L426.8,249.5 L427.2,249.6 L427.6,249.6 L428.0,249.6 L428.4,249.6 L428.9,249.6 L429.3,249.7 L429.7,249.7 L430.1,249.7 L430.5,249.7 L430.9,249.7 L431.3,249.8 L431.8,249.8 L432.2,249.8 L432.6,249.8 L433.0,249.9 L433.4,249.9 L433.8,249.9 L434.2,249.9 L434.7,249.9 L435.1,250.0 L435.5,250.0 L435.9,250.0 L436.3,250.0 L436.7,250.1 L437.2,250.1 L437.6,250.1 L438.0,250.1 L438.4,250.2 L438.8,250.2 L439.2,250.2 L439.6,250.2 L440.1,250.3 L440.5,250.3 L440.9,250.3 L441.3,250.4 L441.7,250.4 L442.1,250.4 L442.5,250.4 L443.0,250.5 L443.4,250.5 L443.8,250.5 L444.2,250.6 L444.6,250.6 L445.0,250.6 L445.4,250.7 L445.9,250.7 L446.3,250.7 L446.7,250.8 L447.1,250.8 L447.5,250.9 L447.9,250.9 L448.4,250.9 L448.8,251.0 L449.2,251.0 L449.6,251.0 L450.0,251.1 L450.4,251.1 L450.8,251.2 L451.3,251.2 L451.7,251.3 L452.1,251.3 L452.5,251.3 L452.9,251.4 L453.3,251.4 L453.7,251.5 L454.2,251.5 L454.6,251.6 L455.0,251.6 L455.4,251.6 L455.8,251.7 L456.2,251.7 L456.6,251.8 L457.1,251.8 L457.5,251.9 L457.9,251.9 L458.3,252.0 L458.7,252.0 L459.1,252.1 L459.6,252.1 L460.0,252.2 L460.4,252.2 L460.8,252.3 L461.2,252.3 L461.6,252.4 L462.0,252.5 L462.5,252.5 L462.9,252.6 L463.3,252.6 L463.7,252.7 L464.1,252.8 L464.5,252.9 L464.9,252.9 L465.4,253.0 L465.8,253.1 L466.2,253.2 L466.6,253.2 L467.0,253.3 L467.4,253.4 L467.8,253.5 L468.3,253.6 L468.7,253.7 L469.1,253.8 L469.5,253.9 L469.9,254.0 L470.3,254.0 L470.8,254.1 L471.2,254.2 L471.6,254.3 L472.0,254.4 L472.4,254.5 L472.8,254.6 L473.2,254.8 L473.7,254.9 L474.1,255.0 L474.5,255.1 L474.9,255.2 L475.3,255.3 L475.7,255.4 L476.1,255.6 L476.6,255.7 L477.0,255.8 L477.4,256.0 L477.8,256.1 L478.2,256.2 L478.6,256.4 L479.0,256.5 L479.5,256.7 L479.9,256.8 L480.3,257.0 L480.7,257.1 L481.1,257.3 L481.5,257.4 L482.0,257.6 L482.4,257.7 L482.8,257.9 L483.2,258.0 L483.6,258.2 L484.0,258.3 L484.4,258.4 L484.9,258.6 L485.3,258.7 L485.7,258.8 L486.1,259.0 L486.5,259.1 L486.9,259.2 L487.3,259.3 L487.8,259.4 L488.2,259.6 L488.6,259.7 L489.0,259.8 L489.4,259.9 L489.8,260.0 L490.2,260.1 L490.7,260.2 L491.1,260.2 L491.5,260.3 L491.9,260.4 L492.3,260.5 L492.7,260.6 L493.2,260.7 L493.6,260.7 L494.0,260.8 L494.4,260.9 L494.8,260.9 L495.2,261.0 L495.6,261.0 L496.1,261.1 L496.5,261.1 L496.9,261.2 L497.3,261.2 L497.7,261.3 L498.1,261.3 L498.5,261.4 L499.0,261.4 L499.4,261.4 L499.8,261.5 L500.2,261.5 L500.6,261.5 L501.0,261.5 L501.4,261.6 L501.9,261.6 L502.3,261.6 L502.7,261.6 L503.1,261.7 L503.5,261.7 L503.9,261.7 L504.4,261.7 L504.8,261.7 L505.2,261.8 L505.6,261.8 L506.0,261.8 L506.4,261.8 L506.8,261.8 L507.3,261.8 L507.7,261.8 L508.1,261.9 L508.5,261.9 L508.9,261.9 L509.3,261.9 L509.7,261.9 L510.2,261.9 L510.6,261.9 L511.0,261.9 L511.4,262.0 L511.8,262.0 L512.2,262.0 L512.6,262.0 L513.1,262.0 L513.5,262.0" stroke="#1fea1f" stroke-width="1.5"/><path d="M348.8,244.5 L349.2,244.6 L349.6,244.8 L350.0,244.9 L350.5,244.9 L350.9,244.9 L351.3,245.0 L351.7,245.0 L352.1,245.1 L352.5,245.0 L352.9,245.0 L353.4,245.1 L353.8,245.2 L354.2,245.2 L354.6,245.2 L355.0,245.3 L355.4,245.3 L355.9,245.4 L356.3,245.5 L356.7,245.6 L357.1,245.7 L357.5,245.6 L357.9,245.6 L358.3,245.7 L358.8,245.9 L359.2,246.2 L359.6,246.2 L360.0,246.2 L360.4,246.1 L360.8,246.1 L361.2,246.2 L361.7,246.2 L362.1,246.2 L362.5,246.2 L362.9,246.3 L363.3,246.4 L363.7,246.5 L364.1,246.7 L364.6,246.8 L365.0,246.9 L365.4,246.8 L365.8,246.8 L366.2,246.8 L366.6,246.9 L367.1,246.9 L367.5,247.0 L367.9,247.1 L368.3,247.1 L368.7,247.1 L369.1,247.1 L369.5,247.2 L370.0,247.2 L370.4,247.3 L370.8,247.4 L371.2,247.4 L371.6,247.5 L372.0,247.6 L372.4,247.7 L372.9,247.7 L373.3,247.8 L373.7,247.8 L374.1,247.8 L374.5,247.8 L374.9,247.8 L375.3,247.7 L375.8,247.8 L376.2,247.9 L376.6,247.9 L377.0,248.0 L377.4,248.1 L377.8,248.2 L378.3,248.3 L378.7,248.3 L379.1,248.3 L379.5,248.2 L379.9,248.1 L380.3,248.2 L380.7,248.3 L381.2,248.4 L381.6,248.4 L382.0,248.3 L382.4,248.2 L382.8,248.1 L383.2,248.2 L383.6,248.3 L384.1,248.4 L384.5,248.5 L384.9,248.6 L385.3,248.7 L385.7,248.8 L386.1,248.8 L386.5,248.8 L387.0,248.7 L387.4,248.6 L387.8,248.6 L388.2,248.7 L388.6,248.7 L389.0,248.6 L389.5,248.6 L389.9,248.6 L390.3,248.7 L390.7,248.7 L391.1,248.8 L391.5,248.8 L391.9,248.7 L392.4,248.5 L392.8,248.3 L393.2,248.2 L393.6,248.3 L394.0,248.3 L394.4,248.3 L394.8,248.5 L395.3,248.5 L395.7,248.5 L396.1,248.3 L396.5,248.1 L396.9,247.9 L397.3,247.9 L397.7,247.9 L398.2,248.0 L398.6,247.9 L399.0,247.8 L399.4,247.7 L399.8,247.7 L400.2,247.8 L400.7,247.9 L401.1,247.8 L401.5,247.8 L401.9,247.7 L402.3,247.7 L402.7,247.7 L403.1,247.7 L403.6,247.6 L404.0,247.5 L404.4,247.4 L404.8,247.2 L405.2,247.2 L405.6,247.1 L406.0,247.0 L406.5,247.0 L406.9,247.1 L407.3,247.1 L407.7,247.0 L408.1,246.9 L408.5,246.8 L408.9,246.7 L409.4,246.6 L409.8,246.5 L410.2,246.5 L410.6,246.5 L411.0,246.3 L411.4,246.2 L411.8,246.1 L412.3,246.0 L412.7,246.0 L413.1,245.9 L413.5,245.8 L413.9,245.6 L414.3,245.3 L414.8,245.1 L415.2,244.8 L415.6,244.7 L416.0,244.6 L416.4,244.5 L416.8,244.3 L417.2,244.0 L417.7,243.7 L418.1,243.5 L418.5,243.2 L418.9,242.9 L419.3,242.7 L419.7,242.5 L420.1,242.4 L420.6,242.2 L421.0,242.0 L421.4,241.7 L421.8,241.3 L422.2,240.8 L422.6,240.2 L423.0,239.6 L423.5,239.2 L423.9,238.9 L424.3,238.5 L424.7,238.0 L425.1,237.3 L425.5,236.5 L426.0,235.8 L426.4,235.2 L426.8,234.6 L427.2,233.7 L427.6,232.8 L428.0,231.8 L428.4,230.7 L428.9,229.6 L429.3,228.6 L429.7,227.6 L430.1,226.7 L430.5,225.6 L430.9,224.5 L431.3,223.4 L431.8,222.3 L432.2,221.3 L432.6,220.3 L433.0,219.3 L433.4,218.2 L433.8,217.1 L434.2,216.1 L434.7,215.1 L435.1,214.3 L435.5,213.6 L435.9,213.0 L436.3,212.4 L436.7,211.8 L437.2,211.2 L437.6,210.6 L438.0,210.1 L438.4,209.8 L438.8,209.6 L439.2,209.5 L439.6,209.5 L440.1,209.5 L440.5,209.5 L440.9,209.5 L441.3,209.5 L441.7,209.5 L442.1,209.7 L442.5,209.9 L443.0,210.3 L443.4,210.6 L443.8,210.8 L444.2,211.0 L444.6,211.1 L445.0,211.3 L445.4,211.5 L445.9,211.8 L446.3,212.1 L446.7,212.1 L447.1,212.0 L447.5,211.7 L447.9,211.4 L448.4,211.1 L448.8,210.6 L449.2,210.1 L449.6,209.6 L450.0,209.0 L450.4,208.1 L450.8,207.0 L451.3,205.9 L451.7,204.7 L452.1,203.5 L452.5,202.3 L452.9,201.1 L453.3,199.8 L453.7,198.4 L454.2,196.9 L454.6,195.1 L455.0,193.0 L455.4,190.8 L455.8,188.3 L456.2,185.8 L456.6,183.2 L457.1,180.9 L457.5,178.7 L457.9,176.6 L458.3,174.2 L458.7,171.7 L459.1,168.8 L459.6,166.0 L460.0,163.1 L460.4,160.3 L460.8,157.4 L461.2,154.6 L461.6,151.8 L462.0,149.2 L462.5,146.7 L462.9,144.3 L463.3,142.0 L463.7,140.0 L464.1,138.2 L464.5,136.7 L464.9,135.3 L465.4,134.1 L465.8,133.0 L466.2,132.1 L466.6,131.4 L467.0,130.8 L467.4,130.2 L467.8,129.8 L468.3,129.4 L468.7,129.2 L469.1,129.2 L469.5,129.3 L469.9,129.4 L470.3,129.4 L470.8,129.4 L471.2,129.5 L471.6,129.7 L472.0,130.0 L472.4,130.2 L472.8,130.4 L473.2,130.4 L473.7,130.2 L474.1,129.9 L474.5,129.4 L474.9,128.8 L475.3,128.1 L475.7,127.2 L476.1,126.1 L476.6,124.9 L477.0,123.6 L477.4,122.1 L477.8,120.5 L478.2,118.8 L478.6,116.8 L479.0,114.8 L479.5,112.7 L479.9,110.8 L480.3,108.9 L480.7,107.2 L481.1,105.5 L481.5,103.8 L482.0,101.9 L482.4,99.3 L482.8,96.7 L483.2,94.1 L483.6,92.1 L484.0,90.6 L484.4,89.7 L484.9,89.1 L485.3,88.9 L485.7,89.3 L486.1,90.2 L486.5,91.8 L486.9,93.9 L487.3,96.3 L487.8,99.2 L488.2,102.4 L488.6,106.1 L489.0,110.2 L489.4,114.6 L489.8,119.4 L490.2,124.2 L490.7,129.3 L491.1,134.7 L491.5,140.7 L491.9,147.0 L492.3,153.4 L492.7,159.8 L493.2,166.2 L493.6,172.7 L494.0,178.9 L494.4,184.8 L494.8,190.2 L495.2,195.5 L495.6,200.6 L496.1,205.5 L496.5,210.2 L496.9,214.7 L497.3,218.9 L497.7,222.7 L498.1,226.0 L498.5,229.0 L499.0,231.6 L499.4,234.2 L499.8,236.7 L500.2,239.0 L500.6,241.0 L501.0,242.8 L501.4,244.4 L501.9,245.9 L502.3,247.2 L502.7,248.5 L503.1,249.7 L503.5,250.6 L503.9,251.6 L504.4,252.5 L504.8,253.3 L505.2,254.1 L505.6,254.7 L506.0,255.3 L506.4,255.7 L506.8,256.1 L507.3,256.4 L507.7,256.8 L508.1,257.0 L508.5,257.3 L508.9,257.6 L509.3,257.9 L509.7,258.2 L510.2,258.5 L510.6,258.7 L511.0,259.0 L511.4,259.2 L511.8,259.4 L512.2,259.6 L512.6,259.7 L513.1,259.9 L513.5,260.0 L513.9,260.1 L514.3,260.1 L514.7,260.1 L515.1,260.2 L515.5,260.2 L516.0,260.3 L516.4,260.3 L516.8,260.3 L517.2,260.4 L517.6,260.5 L518.0,260.6 L518.5,260.6 L518.9,260.7 L519.3,260.7 L519.7,260.7 L520.1,260.7 L520.5,260.8 L520.9,261.0 L521.4,261.1 L521.8,261.2 L522.2,261.3 L522.6,261.3 L523.0,261.3 L523.4,261.3 L523.8,261.4 L524.3,261.4 L524.7,261.4 L525.1,261.4 L525.5,261.3 L525.9,261.4 L526.3,261.5 L526.7,261.6 L527.2,261.6 L527.6,261.6 L528.0,261.7 L528.4,261.7 L528.8,261.8 L529.2,261.9 L529.7,261.9 L530.1,261.9 L530.5,261.8 L530.9,261.7 L531.3,261.7 L531.7,261.8 L532.1,261.9 L532.6,262.0 L533.0,262.0 L533.4,262.0 L533.8,262.1 L534.2,262.1 L534.6,262.1 L535.0,262.0 L535.5,261.9 L535.9,261.9 L536.3,262.0 L536.7,262.1 L537.1,262.1 L537.5,262.1 L537.9,262.0 L538.4,262.0 L538.8,262.1 L539.2,262.1 L539.6,262.3 L540.0,262.4 L540.4,262.4 L540.9,262.4 L541.3,262.4 L541.7,262.4 L542.1,262.4 L542.5,262.4 L542.9,262.4 L543.3,262.5 L543.8,262.6 L544.2,262.7 L544.6,262.8 L545.0,262.7 L545.4,262.7 L545.8,262.6" stroke="#ff1f2a" stroke-width="1.3"/><path d="M348.8,244.4 L349.2,244.5 L349.6,244.6 L350.0,244.6 L350.5,244.7 L350.9,244.8 L351.3,244.8 L351.7,244.9 L352.1,245.0 L352.5,245.0 L352.9,245.1 L353.4,245.2 L353.8,245.2 L354.2,245.3 L354.6,245.3 L355.0,245.4 L355.4,245.5 L355.9,245.5 L356.3,245.6 L356.7,245.6 L357.1,245.7 L357.5,245.7 L357.9,245.8 L358.3,245.9 L358.8,245.9 L359.2,246.0 L359.6,246.0 L360.0,246.1 L360.4,246.1 L360.8,246.2 L361.2,246.2 L361.7,246.3 L362.1,246.3 L362.5,246.4 L362.9,246.4 L363.3,246.5 L363.7,246.5 L364.1,246.6 L364.6,246.6 L365.0,246.7 L365.4,246.7 L365.8,246.8 L366.2,246.8 L366.6,246.9 L367.1,246.9 L367.5,247.0 L367.9,247.0 L368.3,247.1 L368.7,247.1 L369.1,247.1 L369.5,247.2 L370.0,247.2 L370.4,247.3 L370.8,247.3 L371.2,247.4 L371.6,247.4 L372.0,247.4 L372.4,247.5 L372.9,247.5 L373.3,247.6 L373.7,247.6 L374.1,247.6 L374.5,247.7 L374.9,247.7 L375.3,247.7 L375.8,247.8 L376.2,247.8 L376.6,247.8 L377.0,247.9 L377.4,247.9 L377.8,247.9 L378.3,248.0 L378.7,248.0 L379.1,248.0 L379.5,248.1 L379.9,248.1 L380.3,248.1 L380.7,248.2 L381.2,248.2 L381.6,248.2 L382.0,248.2 L382.4,248.3 L382.8,248.3 L383.2,248.3 L383.6,248.4 L384.1,248.4 L384.5,248.4 L384.9,248.4 L385.3,248.5 L385.7,248.5 L386.1,248.5 L386.5,248.5 L387.0,248.6 L387.4,248.6 L387.8,248.6 L388.2,248.6 L388.6,248.6 L389.0,248.7 L389.5,248.7 L389.9,248.7 L390.3,248.7 L390.7,248.7 L391.1,248.7 L391.5,248.7 L391.9,248.7 L392.4,248.7 L392.8,248.7 L393.2,248.7 L393.6,248.7 L394.0,248.7 L394.4,248.8 L394.8,248.8 L395.3,248.8 L395.7,248.8 L396.1,248.8 L396.5,248.8 L396.9,248.8 L397.3,248.8 L397.7,248.8 L398.2,248.8 L398.6,248.8 L399.0,248.8 L399.4,248.8 L399.8,248.8 L400.2,248.7 L400.7,248.7 L401.1,248.7 L401.5,248.7 L401.9,248.7 L402.3,248.7 L402.7,248.7 L403.1,248.7 L403.6,248.6 L404.0,248.6 L404.4,248.6 L404.8,248.6 L405.2,248.5 L405.6,248.5 L406.0,248.5 L406.5,248.4 L406.9,248.4 L407.3,248.3 L407.7,248.3 L408.1,248.2 L408.5,248.2 L408.9,248.1 L409.4,248.0 L409.8,248.0 L410.2,247.9 L410.6,247.8 L411.0,247.7 L411.4,247.6 L411.8,247.5 L412.3,247.3 L412.7,247.2 L413.1,247.1 L413.5,246.9 L413.9,246.7 L414.3,246.6 L414.8,246.4 L415.2,246.2 L415.6,245.9 L416.0,245.7 L416.4,245.5 L416.8,245.2 L417.2,244.9 L417.7,244.6 L418.1,244.3 L418.5,243.9 L418.9,243.6 L419.3,243.2 L419.7,242.8 L420.1,242.4 L420.6,241.9 L421.0,241.4 L421.4,240.9 L421.8,240.4 L422.2,239.9 L422.6,239.3 L423.0,238.7 L423.5,238.1 L423.9,237.5 L424.3,236.8 L424.7,236.1 L425.1,235.4 L425.5,234.7 L426.0,234.0 L426.4,233.2 L426.8,232.4 L427.2,231.6 L427.6,230.8 L428.0,230.0 L428.4,229.2 L428.9,228.4 L429.3,227.5 L429.7,226.7 L430.1,225.8 L430.5,225.0 L430.9,224.1 L431.3,223.3 L431.8,222.4 L432.2,221.6 L432.6,220.8 L433.0,220.0 L433.4,219.2 L433.8,218.4 L434.2,217.6 L434.7,216.9 L435.1,216.2 L435.5,215.5 L435.9,214.9 L436.3,214.3 L436.7,213.7 L437.2,213.2 L437.6,212.7 L438.0,212.2 L438.4,211.8 L438.8,211.4 L439.2,211.1 L439.6,210.8 L440.1,210.5 L440.5,210.3 L440.9,210.1 L441.3,210.0 L441.7,209.9 L442.1,209.8 L442.5,209.8 L443.0,209.7 L443.4,209.7 L443.8,209.8 L444.2,209.8 L444.6,209.8 L445.0,209.9 L445.4,209.9 L445.9,209.9 L446.3,210.0 L446.7,209.9 L447.1,209.9 L447.5,209.8 L447.9,209.7 L448.4,209.6 L448.8,209.3 L449.2,209.0 L449.6,208.7 L450.0,208.2 L450.4,207.6 L450.8,207.0 L451.3,206.2 L451.7,205.4 L452.1,204.4 L452.5,203.3 L452.9,202.0 L453.3,200.6 L453.7,199.1 L454.2,197.4 L454.6,195.7 L455.0,193.7 L455.4,191.7 L455.8,189.5 L456.2,187.1 L456.6,184.7 L457.1,182.2 L457.5,179.5 L457.9,176.8 L458.3,174.0 L458.7,171.2 L459.1,168.3 L459.6,165.4 L460.0,162.5 L460.4,159.7 L460.8,156.8 L461.2,154.0 L461.6,151.3 L462.0,148.7 L462.5,146.2 L462.9,143.8 L463.3,141.6 L463.7,139.5 L464.1,137.6 L464.5,135.9 L464.9,134.4 L465.4,133.1 L465.8,132.0 L466.2,131.0 L466.6,130.3 L467.0,129.8 L467.4,129.5 L467.8,129.3 L468.3,129.2 L468.7,129.3 L469.1,129.4 L469.5,129.7 L469.9,130.0 L470.3,130.3 L470.8,130.7 L471.2,131.0 L471.6,131.3 L472.0,131.6 L472.4,131.8 L472.8,131.8 L473.2,131.8 L473.7,131.5 L474.1,131.2 L474.5,130.6 L474.9,129.9 L475.3,129.0 L475.7,127.9 L476.1,126.6 L476.6,125.2 L477.0,123.5 L477.4,121.7 L477.8,119.7 L478.2,117.6 L478.6,115.3 L479.0,113.0 L479.5,110.6 L479.9,108.2 L480.3,105.8 L480.7,103.4 L481.1,101.1 L481.5,99.0 L482.0,97.0 L482.4,95.2 L482.8,93.6 L483.2,92.3 L483.6,91.4 L484.0,90.7 L484.4,90.5 L484.9,90.7 L485.3,91.3 L485.7,92.3 L486.1,93.7 L486.5,95.6 L486.9,97.8 L487.3,100.4 L487.8,103.4 L488.2,106.8 L488.6,110.5 L489.0,114.5 L489.4,118.8 L489.8,123.4 L490.2,128.2 L490.7,133.2 L491.1,138.4 L491.5,143.7 L491.9,149.2 L492.3,154.6 L492.7,160.2 L493.2,165.7 L493.6,171.2 L494.0,176.6 L494.4,181.9 L494.8,187.1 L495.2,192.2 L495.6,197.2 L496.1,201.9 L496.5,206.5 L496.9,210.9 L497.3,215.0 L497.7,219.0 L498.1,222.7 L498.5,226.2 L499.0,229.5 L499.4,232.6 L499.8,235.4 L500.2,238.1 L500.6,240.5 L501.0,242.7 L501.4,244.8 L501.9,246.7 L502.3,248.4 L502.7,249.9 L503.1,251.3 L503.5,252.5 L503.9,253.7 L504.4,254.7 L504.8,255.5 L505.2,256.3 L505.6,257.0 L506.0,257.7 L506.4,258.2 L506.8,258.7 L507.3,259.1 L507.7,259.5 L508.1,259.8 L508.5,260.0 L508.9,260.3 L509.3,260.5 L509.7,260.7 L510.2,260.8 L510.6,261.0 L511.0,261.1 L511.4,261.2 L511.8,261.3 L512.2,261.3 L512.6,261.4 L513.1,261.4 L513.5,261.5 L513.9,261.5 L514.3,261.6 L514.7,261.6 L515.1,261.6 L515.5,261.7 L516.0,261.7 L516.4,261.7 L516.8,261.7 L517.2,261.7 L517.6,261.8 L518.0,261.8 L518.5,261.8 L518.9,261.8 L519.3,261.8 L519.7,261.8 L520.1,261.8 L520.5,261.9 L520.9,261.9 L521.4,261.9 L521.8,261.9 L522.2,261.9 L522.6,261.9 L523.0,261.9 L523.4,261.9 L523.8,261.9 L524.3,261.9 L524.7,262.0 L525.1,262.0 L525.5,262.0 L525.9,262.0 L526.3,262.0 L526.7,262.0 L527.2,262.0 L527.6,262.0 L528.0,262.0 L528.4,262.0 L528.8,262.0 L529.2,262.0 L529.7,262.1 L530.1,262.1 L530.5,262.1 L530.9,262.1 L531.3,262.1 L531.7,262.1 L532.1,262.1 L532.6,262.1 L533.0,262.1 L533.4,262.1 L533.8,262.1 L534.2,262.1 L534.6,262.2 L535.0,262.2 L535.5,262.2 L535.9,262.2 L536.3,262.2 L536.7,262.2 L537.1,262.2 L537.5,262.2 L537.9,262.2 L538.4,262.2 L538.8,262.2 L539.2,262.2 L539.6,262.3 L540.0,262.3 L540.4,262.3 L540.9,262.3 L541.3,262.3 L541.7,262.3 L542.1,262.3 L542.5,262.3 L542.9,262.3 L543.3,262.3 L543.8,262.3 L544.2,262.3 L544.6,262.3 L545.0,262.4 L545.4,262.4 L545.8,262.4" stroke="#1c1cee" stroke-width="1.5"/><path d="M348.8,42.6 L349.4,42.8 L350.1,43.0 L350.7,42.7 L351.4,42.7 L352.0,42.7 L352.7,42.3 L353.3,42.2 L354.0,42.4 L354.6,42.2 L355.3,42.1 L355.9,42.2 L356.6,42.4 L357.2,42.3 L357.9,42.0 L358.5,42.2 L359.2,42.8 L359.8,42.8 L360.5,42.3 L361.1,42.3 L361.8,42.1 L362.4,42.0 L363.1,42.0 L363.7,42.3 L364.4,42.7 L365.0,42.7 L365.7,42.5 L366.3,42.4 L367.0,42.4 L367.6,42.5 L368.3,42.6 L368.9,42.4 L369.6,42.4 L370.2,42.4 L370.9,42.5 L371.5,42.6 L372.2,42.7 L372.8,42.8 L373.5,42.8 L374.1,42.8 L374.8,42.6 L375.4,42.4 L376.1,42.5 L376.7,42.6 L377.4,42.8 L378.0,43.0 L378.7,43.0 L379.3,42.7 L380.0,42.5 L380.6,42.6 L381.3,42.9 L381.9,42.5 L382.6,42.1 L383.2,42.1 L383.9,42.4 L384.5,42.7 L385.2,42.9 L385.8,43.1 L386.5,42.9 L387.1,42.5 L387.8,42.5 L388.4,42.6 L389.1,42.4 L389.7,42.2 L390.4,42.4 L391.0,42.6 L391.7,42.5 L392.3,41.9 L393.0,41.4 L393.6,41.4 L394.3,41.5 L394.9,41.9 L395.6,42.0 L396.2,41.2 L396.9,40.6 L397.5,40.6 L398.2,40.8 L398.8,40.6 L399.5,40.3 L400.1,40.4 L400.8,40.7 L401.4,40.5 L402.1,40.3 L402.7,40.4 L403.4,40.4 L404.0,40.2 L404.7,39.8 L405.3,39.6 L406.0,39.5 L406.6,39.6 L407.3,39.9 L407.9,39.7 L408.6,39.5 L409.2,39.4 L409.9,39.6 L410.5,39.8 L411.2,39.6 L411.8,39.6 L412.5,39.9 L413.1,40.1 L413.8,40.2 L414.4,39.9 L415.1,39.7 L415.7,40.1 L416.4,40.5 L417.0,40.5 L417.7,40.7 L418.3,40.9 L419.0,41.0 L419.6,41.8 L420.3,42.8 L420.9,43.6 L421.6,44.2 L422.2,44.3 L422.9,44.1 L423.5,44.7 L424.2,45.8 L424.8,46.3 L425.5,46.0 L426.1,46.2 L426.8,46.7 L427.4,46.5 L428.1,45.8 L428.7,45.0 L429.4,44.4 L430.0,44.2 L430.7,43.6 L431.3,42.6 L432.0,42.0 L432.6,41.5 L433.3,40.5 L433.9,39.5 L434.6,38.9 L435.2,38.6 L435.9,38.6 L436.5,38.7 L437.2,38.5 L437.8,38.2 L438.5,38.4 L439.1,39.3 L439.8,40.1 L440.4,40.8 L441.1,41.3 L441.7,41.7 L442.4,42.5 L443.0,43.7 L443.7,44.4 L444.3,44.8 L445.0,45.2 L445.6,45.8 L446.3,46.6 L446.9,46.7 L447.6,46.0 L448.2,45.5 L448.9,44.9 L449.5,44.3 L450.2,43.8 L450.8,42.4 L451.5,41.2 L452.1,40.6 L452.8,40.5 L453.4,40.8 L454.1,41.2 L454.7,41.2 L455.4,40.6 L456.0,39.7 L456.7,39.3 L457.3,40.4 L458.0,42.2 L458.6,43.3 L459.3,43.5 L459.9,43.5 L460.6,43.6 L461.2,43.6 L461.9,43.4 L462.5,43.4 L463.2,43.2 L463.8,43.4 L464.5,44.0 L465.1,44.4 L465.8,44.6 L466.4,44.5 L467.1,44.2 L467.7,43.5 L468.4,42.6 L469.0,42.0 L469.7,41.5 L470.3,40.5 L471.0,39.5 L471.6,39.1 L472.3,39.2 L472.9,39.6 L473.6,39.8 L474.2,39.8 L474.9,40.1 L475.5,40.8 L476.2,41.5 L476.8,42.3 L477.5,43.5 L478.1,44.7 L478.8,45.6 L479.4,46.5 L480.1,48.1 L480.7,50.2 L481.4,51.9 L482.0,52.2 L482.7,49.1 L483.3,44.9 L484.0,42.3 L484.6,40.1 L485.3,37.5 L485.9,35.6 L486.6,34.9 L487.2,34.3 L487.9,33.8 L488.5,33.5 L489.2,33.8 L489.8,34.4 L490.5,34.5 L491.1,35.1 L491.8,37.6 L492.4,40.4 L493.1,43.2 L493.7,46.3 L494.4,48.3 L495.0,48.8 L495.7,49.2 L496.3,49.7 L497.0,50.1 L497.6,50.0 L498.3,48.6 L498.9,46.7 L499.6,45.2 L500.2,44.2 L500.9,42.9 L501.5,41.4 L502.2,40.2 L502.8,39.5 L503.5,38.6 L504.1,38.0 L504.8,38.0 L505.4,37.9 L506.1,37.5 L506.7,37.2 L507.4,37.1 L508.0,36.9 L508.7,36.8 L509.3,37.2 L510.0,37.6 L510.6,38.0 L511.3,38.4 L511.9,38.8 L512.6,39.1 L513.2,39.3 L513.9,39.5 L514.5,39.4 L515.2,39.5 L515.8,39.6 L516.5,39.5 L517.1,39.7 L517.8,40.0 L518.4,40.1 L519.1,40.1 L519.7,40.1 L520.4,40.2 L521.0,40.7 L521.7,41.1 L522.3,41.2 L523.0,41.1 L523.6,41.2 L524.3,41.4 L524.9,41.3 L525.6,41.0 L526.2,41.4 L526.9,41.7 L527.5,41.6 L528.2,41.7 L528.8,42.0 L529.5,42.1 L530.1,42.0 L530.8,41.8 L531.4,41.6 L532.1,42.1 L532.7,42.3 L533.4,42.2 L534.0,42.3 L534.7,42.3 L535.3,41.9 L536.0,41.8 L536.6,42.2 L537.3,42.3 L537.9,42.0 L538.6,42.0 L539.2,42.2 L539.9,42.6 L540.5,42.7 L541.2,42.7 L541.8,42.7 L542.5,42.6 L543.1,42.6 L543.8,43.0 L544.4,43.4 L545.1,43.1 L545.7,42.8" stroke="#2090ff" stroke-width="1.2"/></g>
<path d="M348.8,42.4 H545.8" stroke="#0a0a0a" stroke-width="1.5"/>
<path d="M348.8,17.4 V265.6 H545.8" fill="none" stroke="#000" stroke-width="1.6" stroke-linecap="square"/>
<path d="M346.9,265.6 h3.8M346.9,250.1 h3.8M346.9,234.6 h3.8M346.9,219.1 h3.8M346.9,203.6 h3.8M346.9,188.1 h3.8M346.9,172.6 h3.8M346.9,157.1 h3.8M346.9,141.6 h3.8M346.9,126.1 h3.8M346.9,110.6 h3.8M346.9,95.1 h3.8M346.9,79.6 h3.8M346.9,64.1 h3.8M346.9,48.6 h3.8M346.9,33.1 h3.8M346.9,17.6 h3.8M348.8,263.7 v3.8M359.2,263.7 v3.8M369.5,263.7 v3.8M379.9,263.7 v3.8M390.3,263.7 v3.8M400.6,263.7 v3.8M411.0,263.7 v3.8M421.4,263.7 v3.8M431.8,263.7 v3.8M442.1,263.7 v3.8M452.5,263.7 v3.8M462.9,263.7 v3.8M473.2,263.7 v3.8M483.6,263.7 v3.8M494.0,263.7 v3.8M504.4,263.7 v3.8M514.7,263.7 v3.8M525.1,263.7 v3.8M535.5,263.7 v3.8M545.8,263.7 v3.8" fill="none" stroke="#000" stroke-width="1.3"/>
<g font-size="8.3" fill="#111" stroke="#111" stroke-width="0.22"><text x="348.8" y="277.1" text-anchor="middle">298</text><text x="369.5" y="277.1" text-anchor="middle">296</text><text x="390.3" y="277.1" text-anchor="middle">294</text><text x="411.0" y="277.1" text-anchor="middle">292</text><text x="431.8" y="277.1" text-anchor="middle">290</text><text x="452.5" y="277.1" text-anchor="middle">288</text><text x="473.2" y="277.1" text-anchor="middle">286</text><text x="494.0" y="277.1" text-anchor="middle">284</text><text x="514.7" y="277.1" text-anchor="middle">282</text><text x="535.5" y="277.1" text-anchor="middle">280</text><text x="332.6" y="269.1" text-anchor="end">0</text><text x="332.6" y="238.1" text-anchor="end">1 × 10</text><text x="332.8" y="234.7" font-size="5.4">4</text><text x="332.6" y="207.1" text-anchor="end">2 × 10</text><text x="332.8" y="203.7" font-size="5.4">4</text><text x="332.6" y="176.1" text-anchor="end">3 × 10</text><text x="332.8" y="172.7" font-size="5.4">4</text><text x="332.6" y="145.1" text-anchor="end">4 × 10</text><text x="332.8" y="141.7" font-size="5.4">4</text><text x="332.6" y="114.1" text-anchor="end">5 × 10</text><text x="332.8" y="110.7" font-size="5.4">4</text><text x="332.6" y="83.1" text-anchor="end">6 × 10</text><text x="332.8" y="79.7" font-size="5.4">4</text><text x="332.6" y="52.1" text-anchor="end">7 × 10</text><text x="332.8" y="48.7" font-size="5.4">4</text><text x="332.6" y="21.1" text-anchor="end">8 × 10</text><text x="332.8" y="17.7" font-size="5.4">4</text></g>
<path d="M361.6,79.6 H377.0" stroke="#ff1f2a" stroke-width="1.3"/>
<path d="M361.6,88.9 H377.0" stroke="#1c1cee" stroke-width="1.3"/>
<path d="M361.6,98.5 H377.0" stroke="#ffa21c" stroke-width="1.3"/>
<path d="M361.6,108.2 H377.0" stroke="#2090ff" stroke-width="1.3"/>
<path d="M361.6,118.3 H377.0" stroke="#1fea1f" stroke-width="1.3"/>
<path d="M484.5,90.5 L503,73" stroke="#111" stroke-width="0.9"/>
<path d="M468,129.4 L483,114.8" stroke="#111" stroke-width="0.9"/>
<path d="M442.5,209.3 L459.5,191.5" stroke="#111" stroke-width="0.9"/>
<g font-size="7.9" fill="#111" stroke="#111" stroke-width="0.22"><text x="418.5" y="10.9" text-anchor="middle">C1s Scan</text><text x="446.0" y="294.2" text-anchor="middle">Binding Energy (eV)</text><text transform="translate(302.3,141.4) rotate(-90)" text-anchor="middle">Counts/ s (Residuals × 2)</text><text x="383.0" y="82.9">Measured spectra</text><text x="383.0" y="92.2">Fit</text><text x="383.0" y="101.8">Fit Components</text><text x="383.0" y="111.5">Residuals</text><text x="383.0" y="121.6">Background</text><text x="495.9" y="74.7" text-anchor="middle" font-size="8.2">C-C</text><text x="477" y="115.2" text-anchor="middle" font-size="8.2">C-O</text><text x="450.6" y="193.2" text-anchor="middle" font-size="8.2">C=O</text></g>
<g font-family='"Liberation Serif", "Times New Roman", serif' font-size="12.2" fill="#111" text-anchor="middle">
<text x="127" y="314.6">(<tspan font-weight="bold">c</tspan>)</text>
<text x="420.5" y="314.6">(<tspan font-weight="bold">d</tspan>)</text>
</g>
</svg>
</body></html>
